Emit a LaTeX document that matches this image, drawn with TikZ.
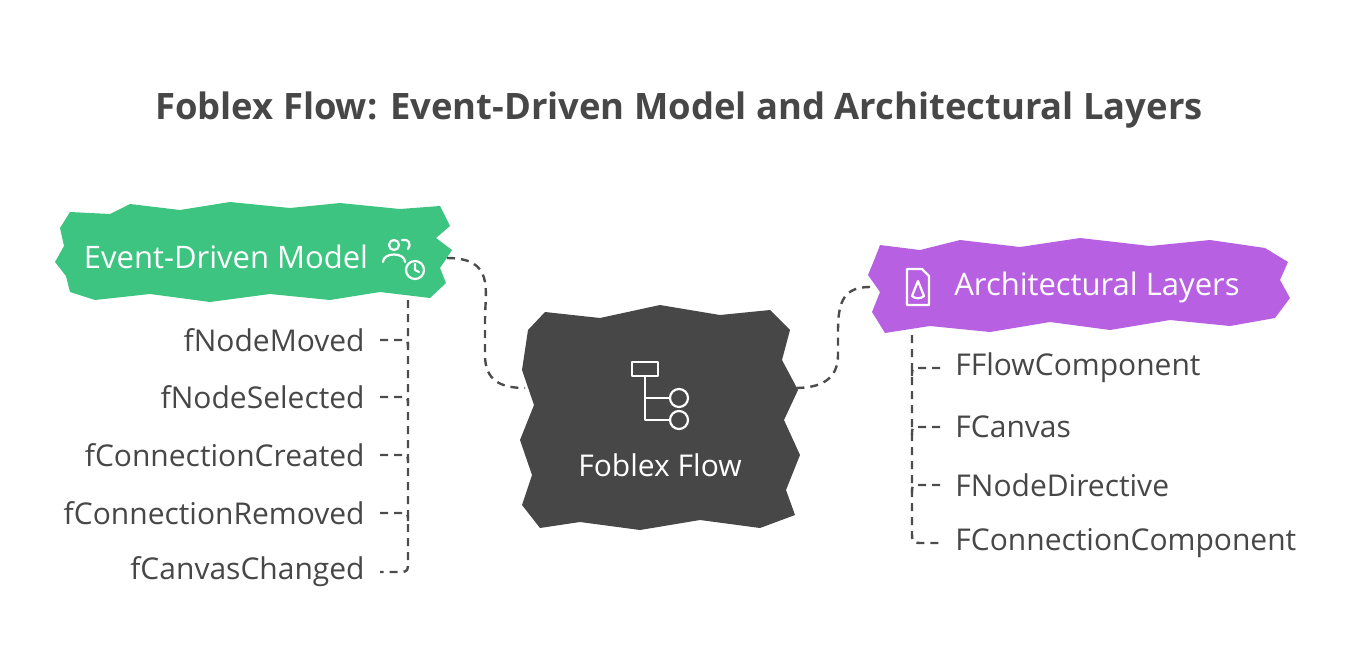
\documentclass[tikz,border=0pt]{standalone}
\usepackage{fontspec}
\setmainfont{Open Sans}
\begin{document}
\begin{tikzpicture}[x=0.5pt,y=-0.5pt,
  dsh/.style={draw=black!70,line width=1.2pt,dash pattern=on 4pt off 3pt},
  item/.style={font=\fontsize{15}{17}\selectfont,text=black!72,inner sep=0pt},
  head/.style={font=\fontsize{15.5}{18}\selectfont,text=white,inner sep=0pt},
  ic/.style={draw=white,line width=1.1pt,line join=round,line cap=round}]
\useasboundingbox (0,0) rectangle (1358,669);
\definecolor{gr}{HTML}{3DC480}\definecolor{pu}{HTML}{B860E2}\definecolor{dk}{HTML}{474747}
\node[font=\bfseries\fontsize{18.2}{21}\selectfont,text=black!72] (title) at (679,110) {Foblex Flow: Event-Driven Model and Architectural Layers};
% green brush
\fill[gr] (60,228)--(70,212)--(110,214)--(130,204)--(180,210)--(230,202)--(290,208)--(340,203)--(400,209)--(440,206)--(450,226)--(436,238)--(452,250)--(440,268)--(446,283)--(430,298)--(380,292)--(330,300)--(270,294)--(210,302)--(150,294)--(95,300)--(70,292)--(66,276)--(55,262)--(64,246)--cycle;
\node[head] (ev) at (226,257) {Event-Driven Model};
\begin{scope}[shift={(400,252)}]
\draw[ic] (-6,-7) circle (5); \draw[ic] (-17,10) .. controls (-17,0) and (5,0) .. (5,10);
\draw[ic] (2,-12) .. controls (8,-14) and (12,-8) .. (8,-3);
\fill[gr] (15,18) circle (11); \draw[ic] (15,18) circle (9); \draw[ic] (15,12)--(15,18)--(19,20);
\end{scope}
% purple brush
\fill[pu] (875,258)--(880,245)--(920,250)--(960,240)--(1020,247)--(1080,238)--(1150,246)--(1210,240)--(1265,248)--(1288,262)--(1280,280)--(1290,298)--(1275,318)--(1230,326)--(1170,320)--(1110,330)--(1050,322)--(990,332)--(930,326)--(885,333)--(872,312)--(880,292)--(868,275)--cycle;
\node[head] (ar) at (1097,287) {Architectural Layers};
\begin{scope}[shift={(918,287)}]
\draw[ic] (-11,-18)--(4,-18)--(11,-11)--(11,18)--(-11,18)--cycle;
\draw[ic] (-6,9)--(0,-6)--(6,9); \draw[ic] (-6,9) .. controls (-3,12) and (3,12) .. (6,9);
\end{scope}
% dark brush
\fill[dk] (528,330)--(545,312)--(600,318)--(660,305)--(720,315)--(770,310)--(790,330)--(782,360)--(798,390)--(784,420)--(800,455)--(786,490)--(795,515)--(760,528)--(700,520)--(640,530)--(580,522)--(540,528)--(522,505)--(532,475)--(520,440)--(534,405)--(522,370)--cycle;
\node[head,font=\fontsize{15}{17}\selectfont] (ff) at (660,465) {Foblex Flow};
\begin{scope}[shift={(660,400)}]
\draw[ic] (-28,-38) rectangle (-2,-24);
\draw[ic] (-15,-24)--(-15,20)--(10,20); \draw[ic] (-15,-2)--(10,-2);
\draw[ic] (19,-2) circle (9); \draw[ic] (19,20) circle (9);
\end{scope}
% connectors
\coordinate (gL) at (447,258); \coordinate (dL) at (525,388);
\draw[dsh] (gL) .. controls (495,258) and (485,290) .. (485,320) -- (485,355) .. controls (485,380) and (500,388) .. (dL);
\coordinate (pR) at (870,287); \coordinate (dR) at (795,388);
\draw[dsh] (pR) .. controls (845,287) and (838,300) .. (838,330) -- (838,355) .. controls (838,380) and (820,388) .. (dR);
% left list
\foreach \n/\t/\y in {a/fNodeMoved/340,b/fNodeSelected/397,c/fConnectionCreated/455,d/fConnectionRemoved/513}{
  \node[item,anchor=east] (\n) at (365,\y) {\t};
  \draw[dsh] (380,\y)--(400,\y) .. controls (408,\y) .. (408,\y+8);}
\node[item,anchor=east] (e) at (365,572) {fCanvasChanged};
\draw[dsh] (408,300)--(408,560) .. controls (408,572) .. (396,572)--(380,572);
% right list
\foreach \n/\t/\y in {f/FFlowComponent/368,g/FCanvas/427,h/FNodeDirective/485}{
  \node[item,anchor=west] (\n) at (955,\y) {\t};
  \draw[dsh] (940,\y)--(920,\y) .. controls (912,\y) .. (912,\y+8);}
\node[item,anchor=west] (i) at (955,543) {FConnectionComponent};
\draw[dsh] (912,335)--(912,531) .. controls (912,543) .. (924,543)--(940,543);
\end{tikzpicture}
\end{document}
